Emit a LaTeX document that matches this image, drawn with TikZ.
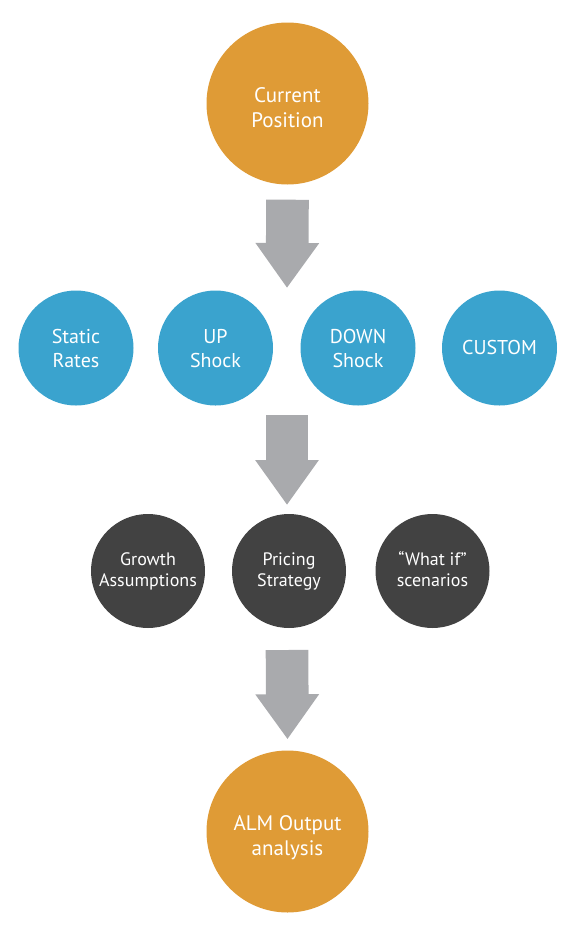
\documentclass[tikz,border=0pt]{standalone}
\usepackage{fontspec}
\setmainfont{PT Sans}
\usetikzlibrary{arrows.meta}
\definecolor{almorange}{HTML}{DF9B36}
\definecolor{almblue}{HTML}{3AA3CE}
\definecolor{almdark}{HTML}{424242}
\definecolor{almgray}{HTML}{A9AAAD}
\begin{document}
\begin{tikzpicture}[
    x=1pt, y=-1pt,
    bubble/.style={circle, inner sep=0pt, text=white, align=center},
    % #1/#2 = height/depth of the text box, sets how low the text sits
    textbox/.style 2 args={execute at begin node={\rule{0pt}{#1}}, execute at end node={\rule[-#2]{0pt}{0pt}}},
    bigbubble/.style={bubble, textbox={57pt}{10pt}, minimum size=162pt, fill=almorange, font=\fontsize{21}{25}\selectfont},
    ratebase/.style={bubble, minimum size=115pt, fill=almblue, font=\fontsize{20}{24}\selectfont},
    ratebubble/.style={ratebase, textbox={46.6pt}{8pt}},
    planbubble/.style={bubble, textbox={37pt}{7pt}, minimum size=114pt, fill=almdark, font=\fontsize{18}{20.5}\selectfont},
    bigarrow/.style={draw=almgray, line width=42.6pt, -{Triangle[length=45pt, width=60.6pt]}}
]
    \useasboundingbox (0,0) rectangle (572,932);

    \node[bigbubble] at (287.5,103.5) (current) {Current\\Position};

    \node[ratebubble] at (76,348) (static) {Static\\Rates};
    \node[ratebubble] at (215.5,348) (up) {UP\\Shock};
    \node[ratebubble] at (358,348) (down) {DOWN\\Shock};
    \node[ratebase, textbox={20pt}{8pt}] at (499.5,348) (custom) {CUSTOM};

    \node[planbubble] at (148,571) (growth) {Growth\\Assumptions};
    \node[planbubble] at (289,571) (pricing) {Pricing\\Strategy};
    \node[planbubble] at (432.5,571) (whatif) {“What if”\\scenarios};

    \node[bigbubble] at (287.5,831.5) (output) {ALM Output\\analysis};

    \coordinate (rowtop) at (287,292);
    \coordinate (rowbottom) at (287,405);
    \coordinate (darktop) at (287,513);
    \coordinate (darkbottom) at (287,628);

    \draw[bigarrow] ([yshift=-15pt]current.south) -- ([yshift=4pt]rowtop);
    \draw[bigarrow] ([yshift=-10pt]rowbottom) -- ([yshift=8pt]darktop);
    \draw[bigarrow] ([yshift=-22pt]darkbottom) -- ([yshift=11pt]output.north);
\end{tikzpicture}
\end{document}
